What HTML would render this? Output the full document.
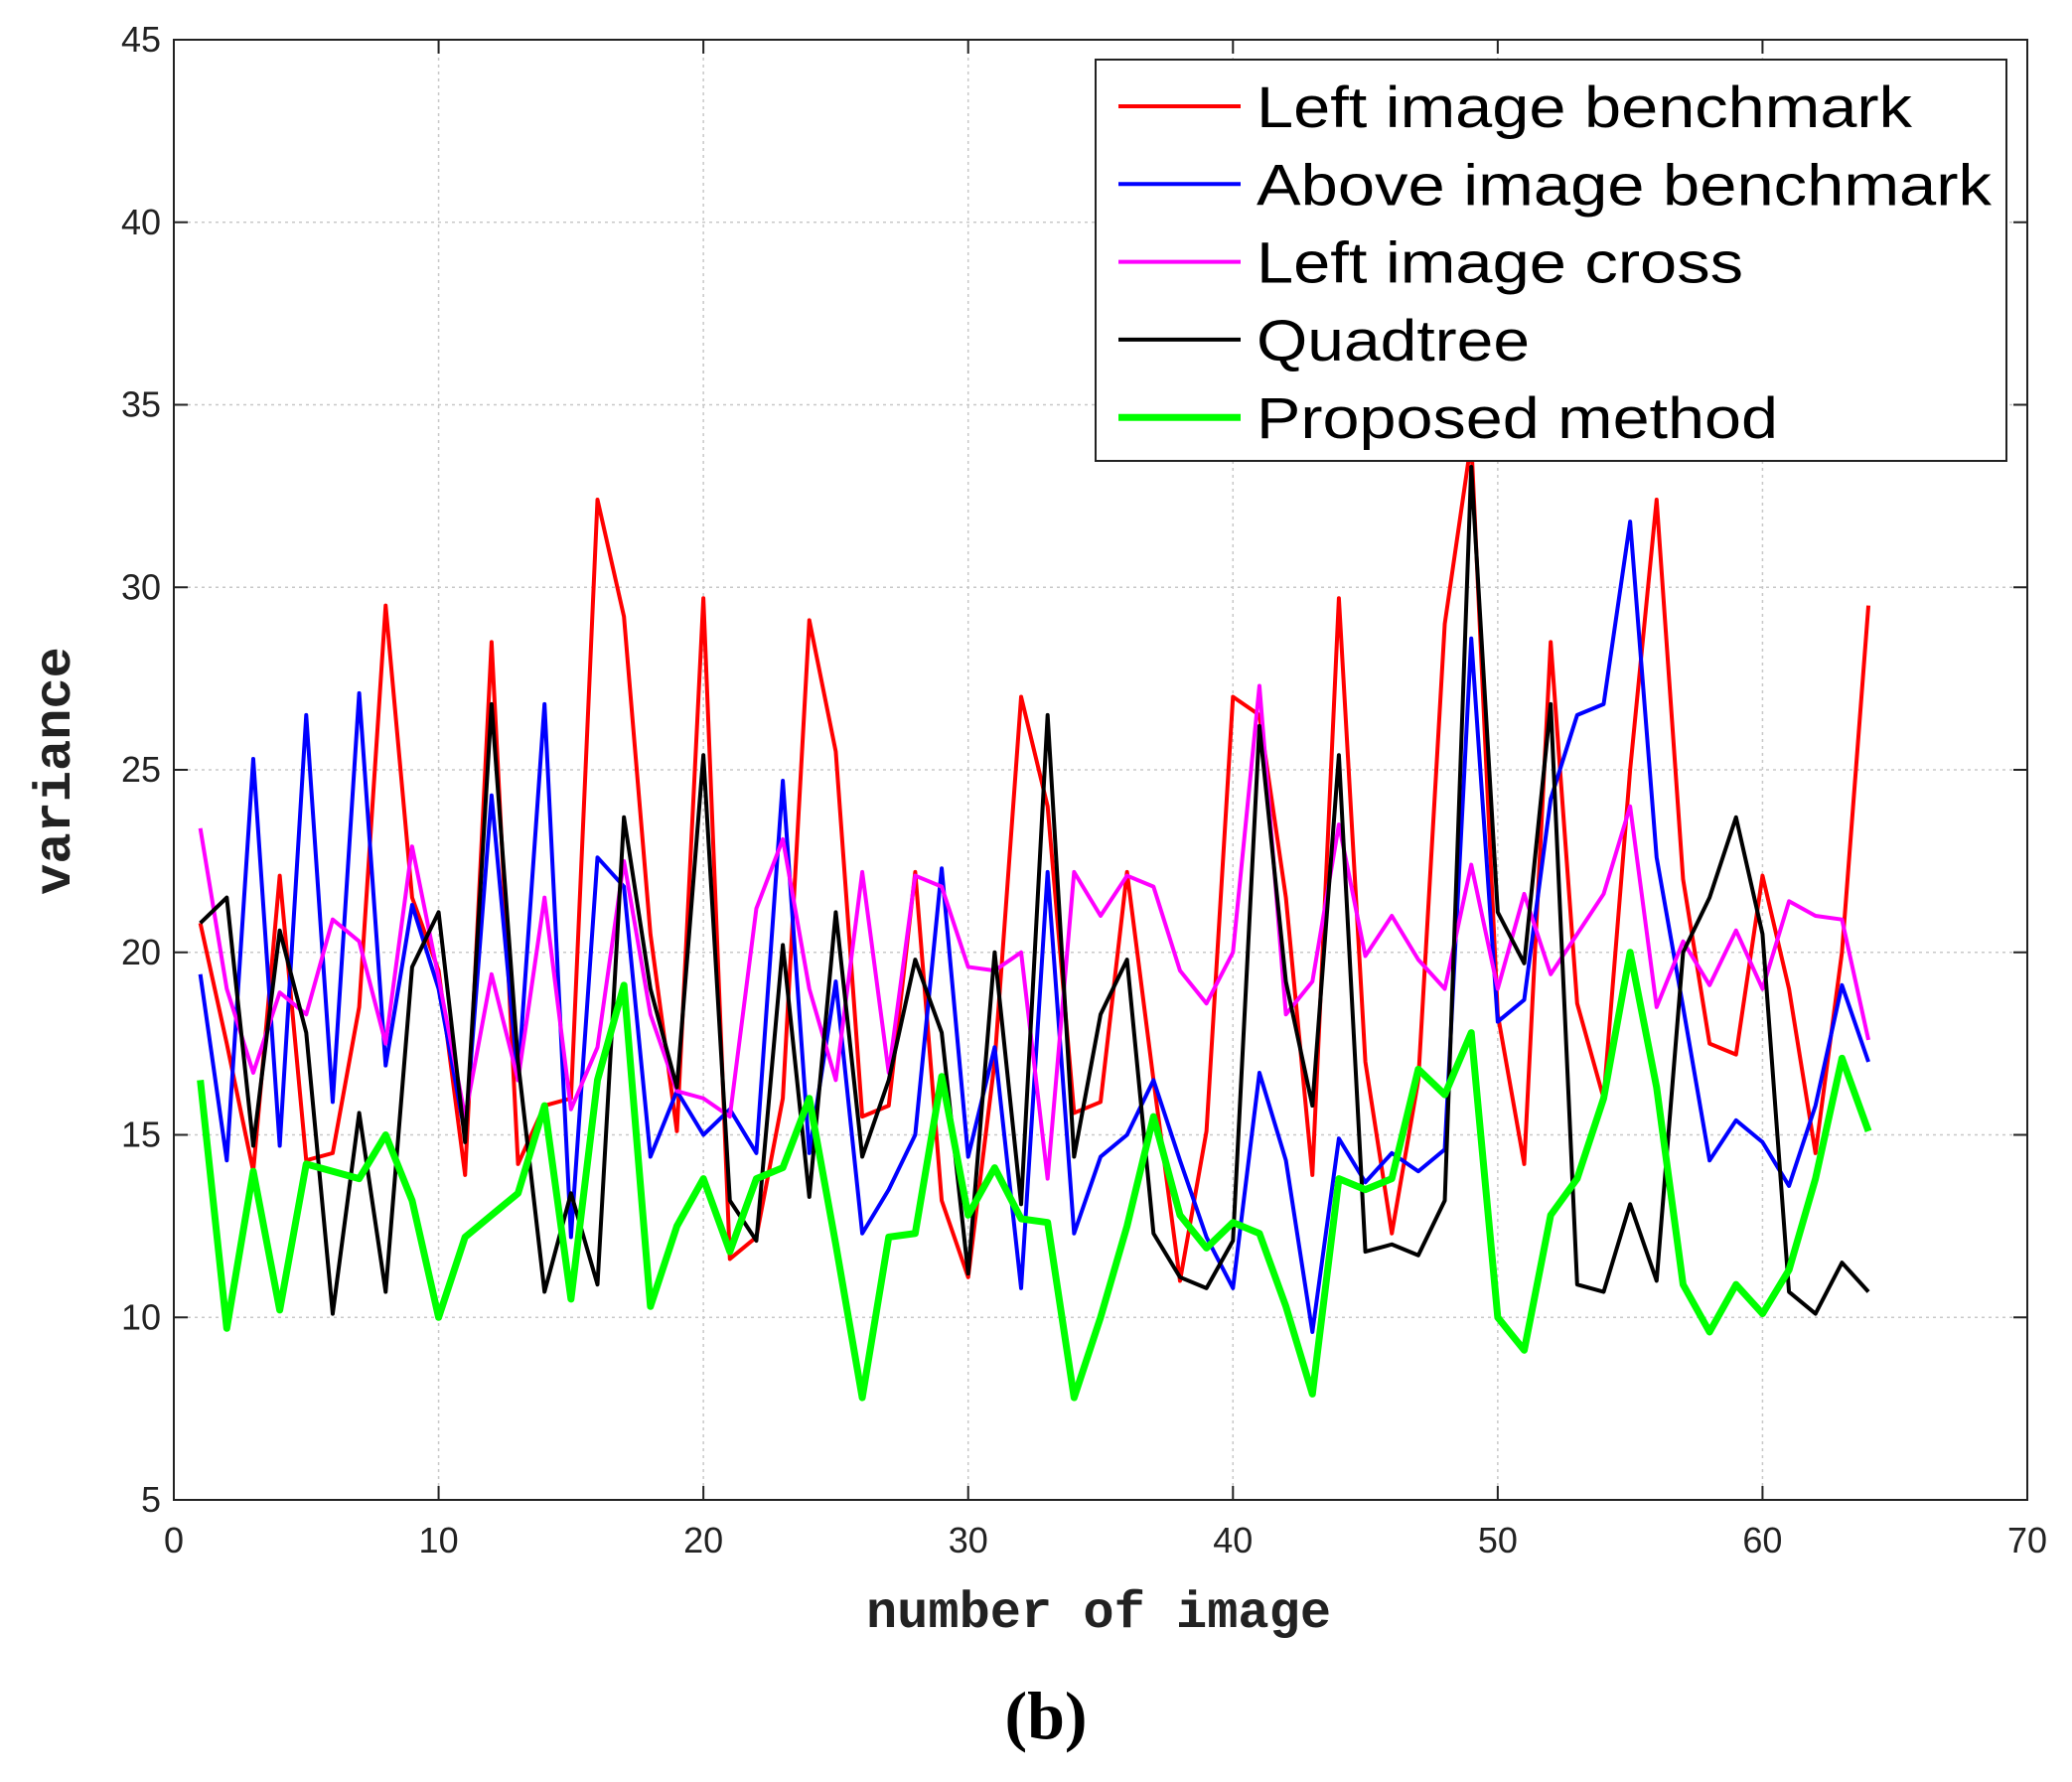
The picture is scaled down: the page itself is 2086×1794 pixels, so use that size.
<!DOCTYPE html>
<html><head><meta charset="utf-8"><style>
html,body{margin:0;padding:0;background:#fff;}
svg{display:block;}
</style></head><body>
<svg id="c" width="2086" height="1794" xmlns="http://www.w3.org/2000/svg">
<rect width="2086" height="1794" fill="#fff"/>
<g id="grid"></g>
<g id="series"></g>
<rect x="175" y="40" width="1866" height="1470" fill="none" stroke="#222" stroke-width="2"/>
<g id="ticks" font-family="Liberation Sans, sans-serif" font-size="36" fill="#222"></g>
<text transform="translate(70,776) rotate(-90)" text-anchor="middle" font-family="Liberation Mono, monospace" font-size="52" font-weight="bold" fill="#222">variance</text>
<text x="1106" y="1638" text-anchor="middle" font-family="Liberation Mono, monospace" font-size="52" font-weight="bold" fill="#222">number of image</text>
<text x="1053" y="1750" text-anchor="middle" font-family="Liberation Serif, serif" font-size="68" font-weight="bold" fill="#000">(b)</text>
<g id="legend">
<rect x="1103" y="60" width="917" height="404" fill="#fff" stroke="#222" stroke-width="2"/>
</g>
</svg>
<script>
const X0=175,X1=2041,Y0=1510,Y1=40;
const sx=v=>X0+(v)/70*(X1-X0), sy=v=>Y0-(v-5)/40*(Y0-Y1);
const ns="http://www.w3.org/2000/svg";
function el(t,a,p,txt){const e=document.createElementNS(ns,t);for(const k in a)e.setAttribute(k,a[k]);if(txt!==undefined)e.textContent=txt;p.appendChild(e);return e;}
const G=document.getElementById('grid'),T=document.getElementById('ticks');
for(let v=10;v<=40;v+=5)el('line',{x1:X0,x2:X1,y1:sy(v),y2:sy(v),stroke:'#c8c8c8','stroke-width':1.5,'stroke-dasharray':'3,4'},G);
for(let v=10;v<=60;v+=10)el('line',{x1:sx(v),x2:sx(v),y1:Y0,y2:Y1,stroke:'#c8c8c8','stroke-width':1.5,'stroke-dasharray':'3,4'},G);
for(let v=5;v<=45;v+=5){el('text',{x:162,y:sy(v)+12,'text-anchor':'end'},T,String(v));
 el('line',{x1:X0,x2:X0+14,y1:sy(v),y2:sy(v),stroke:'#222','stroke-width':2},T);
 el('line',{x1:X1,x2:X1-14,y1:sy(v),y2:sy(v),stroke:'#222','stroke-width':2},T);}
for(let v=0;v<=70;v+=10){el('text',{x:sx(v),y:1563,'text-anchor':'middle'},T,String(v));
 el('line',{x1:sx(v),x2:sx(v),y1:Y0,y2:Y0-14,stroke:'#222','stroke-width':2},T);
 el('line',{x1:sx(v),x2:sx(v),y1:Y1,y2:Y1+14,stroke:'#222','stroke-width':2},T);}
const D={
red:[20.8,17.5,14,22.1,14.3,14.5,18.5,29.5,21.5,19.5,13.9,28.5,14.2,15.8,16,32.4,29.2,20.5,15.1,29.7,11.6,12.2,16,29.1,25.5,15.5,15.8,22.2,13.2,11.1,17,27,24,15.6,15.9,22.2,16.5,11,15.1,27,26.5,21.5,13.9,29.7,17,12.3,16.5,29,34,18.3,14.2,28.5,18.6,16,25,32.4,22,17.5,17.2,22.1,19,14.5,20,29.5],
blue:[19.4,14.3,25.3,14.7,26.5,15.9,27.1,16.9,21.3,19,15,24.3,16.5,26.8,12.2,22.6,21.8,14.4,16.2,15,15.7,14.5,24.7,14.5,19.2,12.3,13.5,15,22.3,14.4,17.4,10.8,22.2,12.3,14.4,15,16.5,14.3,12.2,10.8,16.7,14.3,9.6,14.9,13.7,14.5,14,14.6,28.6,18.1,18.7,24.2,26.5,26.8,31.8,22.6,18.5,14.3,15.4,14.8,13.6,15.8,19.1,17],
magenta:[23.4,19,16.7,18.9,18.3,20.9,20.3,17.5,22.9,19.3,15.5,19.4,16.5,21.5,15.7,17.4,22.5,18.3,16.2,16,15.5,21.2,23.1,19,16.5,22.2,16.7,22.1,21.8,19.6,19.5,20,13.8,22.2,21,22.1,21.8,19.5,18.6,20,27.3,18.3,19.2,23.5,19.9,21,19.8,19,22.4,19,21.6,19.4,20.5,21.6,24,18.5,20.3,19.1,20.6,19,21.4,21,20.9,17.6],
black:[20.8,21.5,14.7,20.6,17.8,10.1,15.6,10.7,19.6,21.1,14.8,26.8,17,10.7,13.4,10.9,23.7,19,16.3,25.4,13.2,12.1,20.2,13.3,21.1,14.4,16.5,19.8,17.8,11.2,20,13.1,26.5,14.4,18.3,19.8,12.3,11.1,10.8,12.1,26.2,19.2,15.8,25.4,11.8,12,11.7,13.2,33.3,21.1,19.7,26.8,10.9,10.7,13.1,11,20,21.5,23.7,20.5,10.7,10.1,11.5,10.7],
green:[16.5,9.7,14,10.2,14.2,14,13.8,15,13.2,10,12.2,12.8,13.4,15.8,10.5,16.5,19.1,10.3,12.5,13.8,11.8,13.8,14.1,16,12,7.8,12.2,12.3,16.6,12.8,14.1,12.7,12.6,7.8,10,12.5,15.5,12.8,11.9,12.6,12.3,10.3,7.9,13.8,13.5,13.8,16.8,16.1,17.8,10,9.1,12.8,13.8,16,20,16.3,10.9,9.6,10.9,10.1,11.3,13.8,17.1,15.1]};
const S=document.getElementById('series');
const cols={red:['#ff0000',4],blue:['#0000ff',4],magenta:['#ff00ff',4],black:['#000',4],green:['#00ff00',7]};
for(const k of ['red','blue','magenta','black','green']){
 el('polyline',{points:D[k].map((v,i)=>sx(i+1)+','+sy(v)).join(' '),fill:'none',stroke:cols[k][0],'stroke-width':cols[k][1],'stroke-linejoin':'round'},S);}
const L=document.getElementById('legend');
const names=[['Left image benchmark','red',660],['Above image benchmark','blue',740],['Left image cross','magenta',490],['Quadtree','black',275],['Proposed method','green',525]];
names.forEach((n,i)=>{const y=107+i*78.3;
 el('line',{x1:1126,x2:1249,y1:y,y2:y,stroke:cols[n[1]][0],'stroke-width':cols[n[1]][1]},L);
 el('text',{x:1265,y:y+21,'font-family':'Liberation Sans, sans-serif','font-size':58,fill:'#000',textLength:n[2],lengthAdjust:'spacingAndGlyphs'},L,n[0]);});
</script>
</body></html>
